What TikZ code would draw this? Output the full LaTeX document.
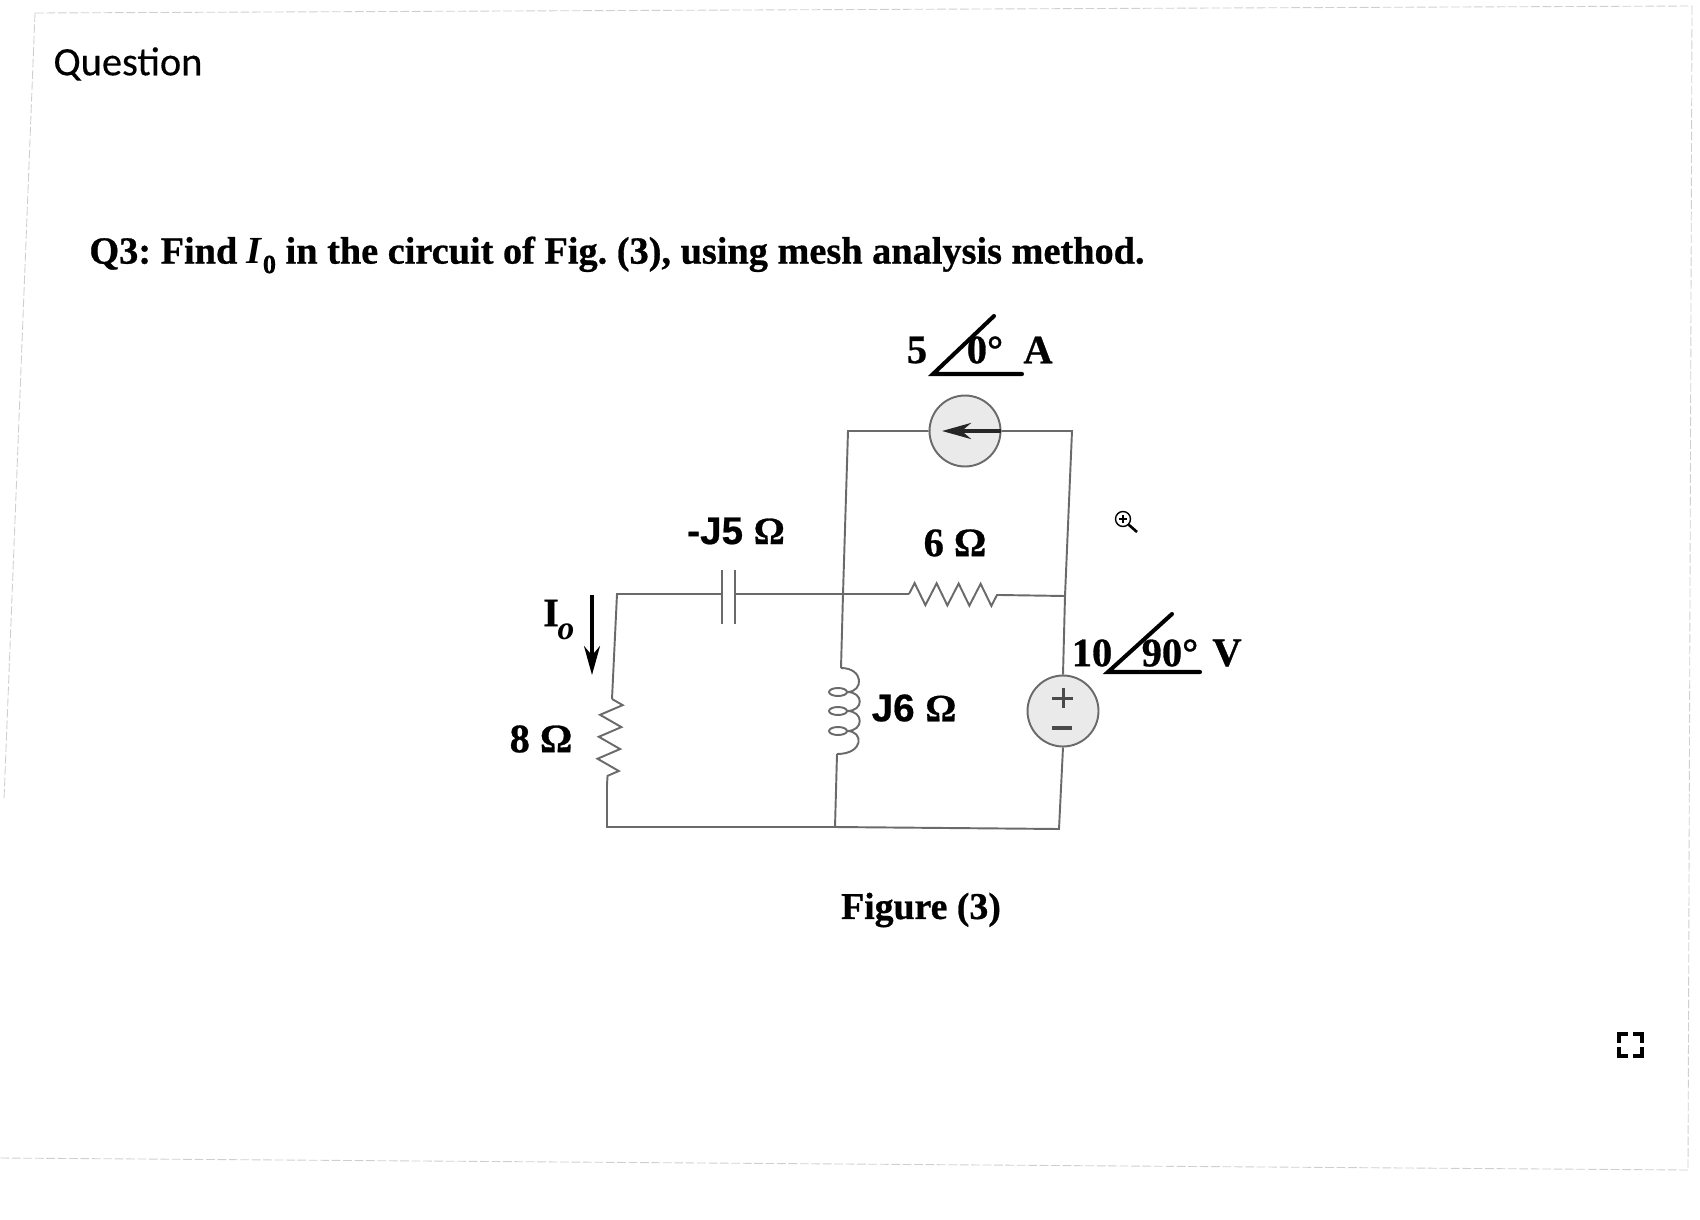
\documentclass[tikz,border=0pt]{standalone}
\usepackage{fontspec}
\setmainfont[BoldFeatures={FakeBold=0.7}]{Liberation Serif}
\newfontfamily\headfont[FakeBold=0.3]{Carlito}
\newfontfamily\arialfont[BoldFeatures={FakeBold=0.5}]{Liberation Sans}
\usetikzlibrary{decorations.pathmorphing,arrows.meta}
\definecolor{wiregray}{HTML}{6A6A6A}
\definecolor{srcgray}{HTML}{EAEAEA}
\definecolor{scangray}{HTML}{CFCFCF}
\tikzset{
  wire/.style={draw=wiregray,line width=1.1pt},
  srcnode/.style={circle,draw=wiregray,fill=srcgray,line width=1.1pt,minimum size=1.42cm,inner sep=0pt},
  label/.style={inner sep=0pt,font=\fontsize{23}{26}\selectfont\bfseries},
  sanslabel/.style={inner sep=0pt,font=\fontsize{22}{26}\selectfont\bfseries\arialfont},
  anglemark/.style={draw=black,line width=2.3pt,line cap=round},
  scanline/.style={draw=scangray,line width=0.5pt,dash pattern=on 5pt off 1.5pt},
  zig/.style={wire,decorate,decoration={zigzag,segment length=0.44cm,amplitude=0.22cm}},
  corner/.style={line width=2.4pt,black}
}
\begin{document}
\begin{tikzpicture}[x=0.02cm,y=-0.02cm]
    \useasboundingbox (0,0) rectangle (1700,1220);
    % page frame of the scan
    \coordinate (F1) at (35,13);
    \coordinate (F2) at (1692,6);
    \coordinate (F3) at (1688,1170);
    \coordinate (F4) at (0,1158);
    \coordinate (F5) at (4,800);
    \draw[scanline] (F1) -- (F2);
    \draw[scanline] (F2) -- (F3);
    \draw[scanline] (F3) -- (F4);
    \draw[scanline] (F1) -- (F5);
    % texts
    \node[inner sep=0pt,font=\fontsize{23}{26}\selectfont\headfont] (Head) at (128,64) {Question};
    \node[inner sep=0pt,font=\fontsize{21.8}{26}\selectfont\bfseries] (Task) at (617,255)
      {\frenchspacing Q3: Find \textit{I}\raisebox{-0.25em}{\fontsize{15}{15}\selectfont 0} in the circuit of Fig. (3), using mesh analysis method.};
    \node[label,font=\fontsize{21.5}{26}\selectfont\bfseries] (Fig) at (921,910) {Figure (3)};
    % corners and junctions
    \coordinate (TL) at (848,431);
    \coordinate (TR) at (1072,431);
    \coordinate (ML) at (617,594);
    \coordinate (MM) at (843,594);
    \coordinate (MR) at (1065,596);
    \coordinate (BL) at (607,827);
    \coordinate (BM) at (835,827);
    \coordinate (BR) at (1059,829);
    \coordinate (LTop) at (841,668);
    \coordinate (LBot) at (837,754);
    \coordinate (R8a) at (612,699);
    \coordinate (R8b) at (607,785);
    \coordinate (R6a) at (909,594);
    \coordinate (R6b) at (1000,595);
    \coordinate (C1) at (722,594);
    \coordinate (C2) at (735,594);
    % sources
    \node[srcnode] (Isrc) at (965,431) {};
    \node[srcnode] (Vsrc) at (1063,711) {};
    \draw[-{Stealth[length=0.58cm,width=0.32cm]},line width=2.4pt,black!85] (Isrc.east) -- ([xshift=-0.46cm]Isrc.center);
    \draw[line width=1.7pt,wiregray!70!black] (1052,698) -- (1073,698) (1063,688) -- (1063,708);
    \draw[line width=1.9pt,wiregray!70!black] (1052,728) -- (1072,728);
    % wires
    \draw[wire] (Isrc.west) -- (TL) -- (MM);
    \draw[wire] (Isrc.east) -- (TR) -- (MR) -- (Vsrc.north);
    \draw[wire] (Vsrc.south) -- (BR) -- (BM) -- (BL) -- (R8b);
    \draw[wire] (R8a) -- (ML) -- (C1);
    \draw[wire] (C2) -- (MM) -- (R6a);
    \draw[wire] (R6b) -- (MR);
    \draw[wire] (MM) -- (LTop);
    \draw[wire] (LBot) -- (BM);
    % capacitor
    \draw[wire] (722,570) -- (722,624);
    \draw[wire] (735,570) -- (735,624);
    % resistors
    \draw[zig] (R6a) -- (R6b);
    \draw[zig] (R8a) -- (R8b);
    % inductor
    \draw[wire] (LTop) .. controls (864,668) and (864,692) .. (847,692)
      .. controls (864,692) and (864,711) .. (847,711)
      .. controls (864,711) and (864,731) .. (847,731)
      .. controls (864,731) and (864,754) .. (LBot);
    \foreach \ly in {692,711,731}{
      \draw[wire] (838,\ly) ellipse [x radius=0.18cm,y radius=0.08cm];
    }
    % current arrow
    \coordinate (Ia) at (592,595);
    \coordinate (Ib) at (592,675);
    \draw[-{Stealth[length=0.58cm,width=0.32cm]},line width=1.9pt] (Ia) -- (Ib);
    % labels
    \node[label] (Io) at (551,613) {I};
    \node[inner sep=0pt,font=\fontsize{19}{20}\selectfont\bfseries\itshape] (Iosub) at (566,632) {o};
    \node[label] (R8) at (541,739) {8 Ω};
    \node[sanslabel] (XC) at (736,531) {-J5 {\rmfamily Ω}};
    \node[label] (R6) at (955,543) {6 Ω};
    \node[sanslabel] (XL) at (914,708) {J6 {\rmfamily Ω}};
    % 5 angle 0 A
    \node[label] (Five) at (917,350) {5};
    \node[label] (Zero) at (985,350) {0°};
    \node[label] (Amp) at (1038,350) {A};
    \coordinate (A1) at (1022,374);
    \coordinate (A2) at (933,374);
    \coordinate (A3) at (994,316);
    \draw[anglemark] (A1) -- (A2) -- (A3);
    % 10 angle 90 V
    \node[label] (Ten) at (1092,653) {10};
    \node[label] (Ninety) at (1170,653) {90°};
    \node[label] (Volt) at (1227,653) {V};
    \coordinate (B1) at (1200,672);
    \coordinate (B2) at (1108,672);
    \coordinate (B3) at (1172,614);
    \draw[anglemark] (B1) -- (B2) -- (B3);
    % zoom icon
    \node[circle,draw=black,line width=0.8pt,minimum size=0.3cm,inner sep=0pt] (Lens) at (1123,519) {};
    \coordinate (LensEnd) at (1137,532);
    \draw[line width=1.5pt] (Lens.south east) -- (LensEnd);
    \draw[line width=0.9pt] (1119,519) -- (1127,519) (1123,515) -- (1123,523);
    % fullscreen icon
    \draw[corner] (1619,1043) -- (1619,1034) -- (1628,1034);
    \draw[corner] (1633,1034) -- (1642,1034) -- (1642,1043);
    \draw[corner] (1619,1047) -- (1619,1056) -- (1628,1056);
    \draw[corner] (1633,1056) -- (1642,1056) -- (1642,1047);
\end{tikzpicture}
\end{document}
